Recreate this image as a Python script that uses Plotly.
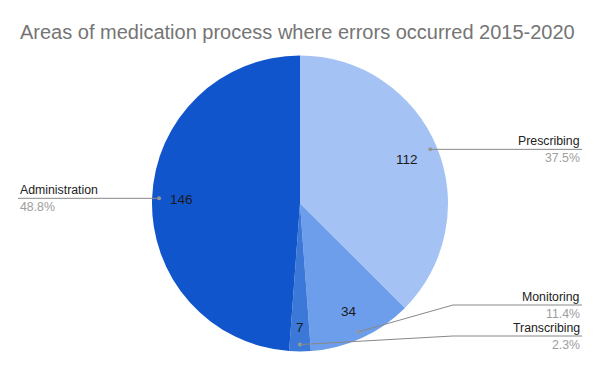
import math
import plotly.graph_objects as go

# ---- data ----
categories = ["Prescribing", "Monitoring", "Transcribing", "Administration"]
values = [112, 34, 7, 146]
title_text = "Areas of medication process where errors occurred 2015-2020"

# ---- style / layout ----
colors = ["#a4c2f4", "#6d9eeb", "#3c78d8", "#1155cc"]
W, H = 600, 371
CX, CY, R = 300, 203.5, 148
FONT = "Arial, Liberation Sans, sans-serif"
# inside value-label radius (fraction of R), per slice
label_r = [0.78, 0.80, 0.84, 0.80]
# external label placement: side, elbow (x, y) or None (horizontal from dot)
label_side = ["right", "right", "right", "left"]
label_elbow = [None, (453, 305), (453, 336), None]
RIGHT_END, LEFT_END = 582, 18


def px(x):
    return x / W


def py(y):
    return 1 - y / H


total = sum(values)
fig = go.Figure(go.Pie(
    labels=categories, values=values, sort=False, direction="clockwise",
    rotation=0, marker=dict(colors=colors, line=dict(color="white", width=0)),
    textinfo="none", hoverinfo="label+value+percent", showlegend=False,
    domain=dict(x=[px(CX - R), px(CX + R)], y=[py(CY + R), py(CY - R)]),
))

annotations = []
shapes = []
cum = 0
for i, (cat, v) in enumerate(zip(categories, values)):
    mid = (cum + v / 2) / total
    cum += v
    ang = 2 * math.pi * mid
    sx, sy = math.sin(ang), -math.cos(ang)
    # value label inside slice
    rl = label_r[i] * R
    annotations.append(dict(
        x=px(CX + rl * sx), y=py(CY + rl * sy), xref="paper", yref="paper",
        text=str(v), showarrow=False, xanchor="center", yanchor="middle",
        font=dict(family=FONT, size=13.5, color="#1a1a1a")))
    # dot
    rd = 0.953 * R
    dx, dy = CX + rd * sx, CY + rd * sy
    shapes.append(dict(type="circle", xref="paper", yref="paper",
                       x0=px(dx - 2), x1=px(dx + 2), y0=py(dy + 2), y1=py(dy - 2),
                       fillcolor="#999999", line=dict(width=0)))
    # leader line
    end_x = RIGHT_END if label_side[i] == "right" else LEFT_END
    if label_elbow[i] is None:
        ly = dy
        pts = [(dx, dy), (end_x, ly)]
    else:
        ex, ly = label_elbow[i]
        pts = [(dx, dy), (ex, ly), (end_x, ly)]
    for (x0, y0), (x1, y1) in zip(pts[:-1], pts[1:]):
        shapes.append(dict(type="line", xref="paper", yref="paper",
                           x0=px(x0), y0=py(y0), x1=px(x1), y1=py(y1),
                           line=dict(color="#888888", width=1)))
    anchor = "right" if label_side[i] == "right" else "left"
    annotations.append(dict(
        x=px(end_x), y=py(ly - 8.5), xref="paper", yref="paper",
        text=cat, showarrow=False, xanchor=anchor, yanchor="middle",
        font=dict(family=FONT, size=12.3, color="#222222")))
    annotations.append(dict(
        x=px(end_x), y=py(ly + 8.5), xref="paper", yref="paper",
        text=f"{v / total * 100:.1f}%", showarrow=False, xanchor=anchor,
        yanchor="middle", font=dict(family=FONT, size=12.3, color="#9e9e9e")))

annotations.append(dict(
    x=px(18), y=py(32), xref="paper", yref="paper", text=title_text,
    showarrow=False, xanchor="left", yanchor="middle",
    font=dict(family=FONT, size=20, color="#757575")))

fig.update_layout(
    width=W, height=H, margin=dict(l=0, r=0, t=0, b=0),
    paper_bgcolor="white", plot_bgcolor="white",
    annotations=annotations, shapes=shapes,
)

fig.write_html("out.html", config={"displayModeBar": False},
               post_script="document.body.style.margin='0';")
